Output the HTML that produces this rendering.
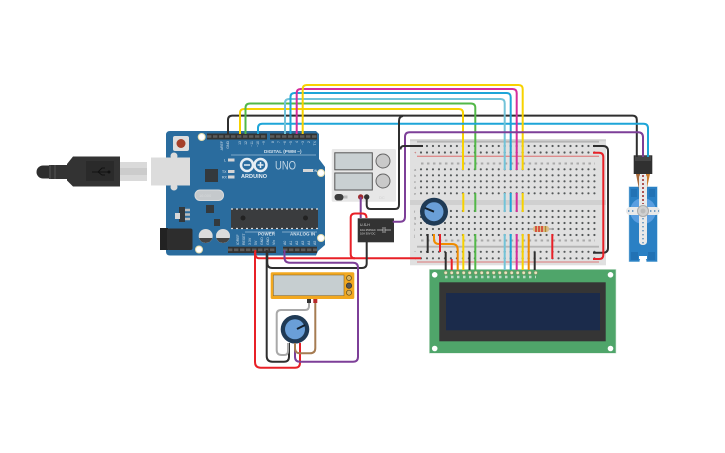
<!DOCTYPE html>
<html><head><meta charset="utf-8"><style>
html,body{margin:0;padding:0;background:#fff;width:725px;height:453px;overflow:hidden}
svg{display:block}
text{font-family:"Liberation Sans",sans-serif}
.w{fill:none;stroke-width:2;stroke-linecap:butt}
.h{fill:none;stroke:#55595a;stroke-width:2.2;stroke-linecap:round;stroke-dasharray:0 5.98}
</style></head><body>
<svg width="725" height="453" viewBox="0 0 725 453" xmlns="http://www.w3.org/2000/svg">
<rect width="725" height="453" fill="#fff"/>

<!-- USB cable -->
<rect x="120" y="162" width="27" height="19" fill="#dadada"/>
<rect x="120" y="168" width="27" height="7" fill="#cccccc"/>
<circle cx="43" cy="172" r="6.500" fill="#2e2e2e"/>
<rect x="43" y="165.500" width="12" height="13" fill="#2e2e2e"/>
<path d="M49 165h18v14h-18z" fill="#333"/>
<path d="M50 165v14M55 165v14" stroke="#555" stroke-width="1"/>
<path d="M67 164l6-7.500h47v30h-47l-6-6z" fill="#333"/>
<rect x="86" y="161" width="28" height="20" fill="#2a2a2a"/>
<path d="M92 172h18M98 172l4-4h3M98 172l4 3h3" stroke="#111" stroke-width="1" fill="none"/>
<circle cx="109" cy="172" r="1.500" fill="#111"/>

<!-- Arduino -->
<path d="M170 131H316l3 3V159l6 8V245l-7 6-2 4.500H170q-4 0-4-4V135q0-4 4-4z" fill="#2a6c9e"/>
<rect x="151" y="157.500" width="39" height="28" fill="#dcdcdc"/>
<circle cx="174" cy="156" r="3.500" fill="#dcdcdc"/><circle cx="174" cy="187" r="3.500" fill="#dcdcdc"/>
<rect x="173" y="136" width="16" height="15" rx="2" fill="#dedede"/>
<circle cx="181" cy="143.500" r="4.500" fill="#a5402a"/>
<circle cx="201.700" cy="137" r="3.500" fill="#fff" stroke="#e9dfae"/>
<circle cx="321" cy="173" r="3.500" fill="#fff" stroke="#e9dfae"/>
<circle cx="321" cy="238" r="3.500" fill="#fff" stroke="#e9dfae"/>
<circle cx="199" cy="249.500" r="3.500" fill="#fff" stroke="#e9dfae"/>
<!-- headers -->
<rect x="207" y="133.500" width="60" height="6" fill="#333"/>
<rect x="270" y="133.500" width="47" height="6" fill="#333"/>
<rect x="228" y="246.700" width="48" height="6.300" fill="#333"/>
<rect x="283" y="246.700" width="34" height="6.300" fill="#333"/>
<path d="M207 136.500H267M270 136.500H317M228 249.800H276M283 249.800H317" stroke="#5c5c5c" stroke-width="2.600" stroke-dasharray="4.400 1.600"/>
<!-- labels -->
<g fill="#cfdde8" font-size="3.500" text-anchor="end">
<text transform="translate(223 141) rotate(-90)">AREF</text>
<text transform="translate(229 141) rotate(-90)">GND</text>
<text transform="translate(241 141) rotate(-90)">13</text>
<text transform="translate(247 141) rotate(-90)">12</text>
<text transform="translate(253 141) rotate(-90)">~11</text>
<text transform="translate(259 141) rotate(-90)">~10</text>
<text transform="translate(265 141) rotate(-90)">~9</text>
<text transform="translate(274 141) rotate(-90)">8</text>
<text transform="translate(280 141) rotate(-90)">7</text>
<text transform="translate(286 141) rotate(-90)">~6</text>
<text transform="translate(292 141) rotate(-90)">~5</text>
<text transform="translate(298 141) rotate(-90)">4</text>
<text transform="translate(304 141) rotate(-90)">~3</text>
<text transform="translate(310 141) rotate(-90)">2</text>
<text transform="translate(316 141) rotate(-90)">TX</text>
<text transform="translate(239 245) rotate(0)" opacity="0"> </text>
</g>
<g fill="#cfdde8" font-size="3.500">
<text transform="translate(239 245) rotate(-90)">IOREF</text>
<text transform="translate(245 245) rotate(-90)">RESET</text>
<text transform="translate(251 245) rotate(-90)">3.3V</text>
<text transform="translate(257 245) rotate(-90)">5V</text>
<text transform="translate(263 245) rotate(-90)">GND</text>
<text transform="translate(269 245) rotate(-90)">GND</text>
<text transform="translate(275 245) rotate(-90)">Vin</text>
<text transform="translate(286 245) rotate(-90)">A0</text>
<text transform="translate(292 245) rotate(-90)">A1</text>
<text transform="translate(298 245) rotate(-90)">A2</text>
<text transform="translate(304 245) rotate(-90)">A3</text>
<text transform="translate(310 245) rotate(-90)">A4</text>
<text transform="translate(316 245) rotate(-90)">A5</text>
<text x="264" y="153" font-weight="bold" font-size="4.600" fill="#d8e4ee">DIGITAL (PWM ~)</text>
<text x="258" y="235.500" font-weight="bold" font-size="4.500" fill="#d8e4ee">POWER</text>
<text x="290" y="235.500" font-weight="bold" font-size="4.500" fill="#d8e4ee">ANALOG IN</text>
</g>
<path d="M231 155H316M245 232H275M282 232H317" stroke="#7fa8c8" stroke-width="1"/>
<rect x="228" y="158.500" width="6.500" height="3" fill="#d5d5d5"/>
<rect x="228" y="170" width="6.500" height="3" fill="#d5d5d5"/>
<rect x="228" y="175.500" width="6.500" height="3" fill="#d5d5d5"/>
<rect x="303" y="169" width="10" height="3" fill="#d5d5d5"/>
<g fill="#dfe9f0" font-size="3.500"><text x="224" y="161.500">L</text><text x="222" y="173">TX</text><text x="222" y="178.500">RX</text><text x="312" y="172">ON</text></g>
<!-- logo -->
<g fill="none" stroke="#e6eef4" stroke-width="2.500">
<circle cx="247" cy="165" r="6"/><circle cx="260.500" cy="165" r="6"/>
</g>
<path d="M244 165h6M257.500 165h6M260.500 162v6" stroke="#e6eef4" stroke-width="1.500"/>
<text x="241" y="178" fill="#e6eef4" font-size="5.500" font-weight="bold" textLength="26">ARDUINO</text>
<text x="275" y="169.500" fill="#c3d7e5" font-size="11.500" textLength="21" lengthAdjust="spacingAndGlyphs">UNO</text>
<!-- components -->
<rect x="205" y="169" width="13" height="13" fill="#33393d"/>
<rect x="195" y="190" width="28.500" height="10.500" rx="5" fill="#c5c9cc" stroke="#d9dbdd"/>
<text x="199" y="197" font-size="4" fill="#d6d8da">16.000</text>
<rect x="206" y="205" width="8" height="8" fill="#33393d"/>
<rect x="179" y="207" width="6" height="15" fill="#33393d"/>
<rect x="175" y="213" width="5" height="6" fill="#d8d8d8"/>
<path d="M185 210h5M185 214.500h5M185 219h5" stroke="#bbb" stroke-width="2.500"/>
<rect x="214" y="219" width="6" height="7" fill="#33393d"/>
<rect x="231" y="208.500" width="87" height="20.500" fill="#3a3c3e"/>
<path d="M231 209H318M231 228.500H318" stroke="#ddd" stroke-width="1.200" stroke-dasharray="2 3"/>
<circle cx="243" cy="218" r="2.500" fill="#222"/><circle cx="305.500" cy="218" r="2.500" fill="#222"/>
<path d="M160 228h8v22h-8z" fill="#222"/>
<rect x="167" y="228.500" width="25.500" height="21.500" rx="2" fill="#2d2d2d"/>
<circle cx="205.700" cy="236" r="7" fill="#dcdcdc"/><path d="M199 238a7 7 0 0 0 13.400 0z" fill="#444"/>
<circle cx="223" cy="236" r="7" fill="#dcdcdc"/><path d="M216.300 238a7 7 0 0 0 13.400 0z" fill="#444"/>

<!-- Power supply -->
<rect x="331.700" y="149" width="64.300" height="52.700" rx="1.500" fill="#e7e7e7"/>
<rect x="334.800" y="152.800" width="37.500" height="17" fill="#c9d0d2" stroke="#555" stroke-width="1"/>
<rect x="334.800" y="173" width="37.500" height="17" fill="#c9d0d2" stroke="#555" stroke-width="1"/>
<circle cx="383" cy="161" r="7" fill="#c9c9c9" stroke="#666"/>
<circle cx="383" cy="181" r="7" fill="#c9c9c9" stroke="#666"/>
<rect x="334.500" y="194" width="9" height="6.500" rx="3.200" fill="#3c3c3c"/>
<rect x="343.500" y="195.500" width="4" height="3" fill="#bbb"/>
<circle cx="360.700" cy="197" r="2.700" fill="#a02c2c"/>
<circle cx="366.700" cy="197" r="2.700" fill="#333"/>
<text x="379" y="199" font-size="4" fill="#d0d0d0">DC</text>

<!-- Breadboard -->
<rect x="410" y="139.300" width="196" height="126" fill="#e0e0e0"/>
<rect x="410" y="200" width="196" height="5" fill="#d0d0d0"/>
<rect x="410" y="139.300" width="196" height="2" fill="#d0d0d0"/>
<path d="M417 141.700H599M417 246.700H599" stroke="#b5b5b5" stroke-width="1.800"/>
<path d="M417 156.300H599M417 262H599" stroke="#dd8c8c" stroke-width="1.300"/>
<path class="h" d="M421 146H595M421 152.500H595M421 251.800H595M421 258.300H595"/>
<path class="h" d="M421 169.300H595M421 175.300H595M421 181.300H595M421 187.300H595M421 193.300H595"/>
<path class="h" d="M421 211H595M421 217H595M421 223H595M421 229H595M421 235H595"/>
<path d="M421 163.500H595M421 240.500H595" stroke="#a9a9a9" stroke-width="2" stroke-dasharray="2.500 3.480"/>
<g fill="#888" font-size="4"><text x="414" y="147">−</text><text x="414" y="154" fill="#b33">+</text><text x="414" y="253">−</text><text x="414" y="260" fill="#b33">+</text>
<text x="414" y="171">a</text><text x="414" y="177">b</text><text x="414" y="183">c</text><text x="414" y="189">d</text><text x="414" y="195">e</text>
<text x="414" y="213">f</text><text x="414" y="219">g</text><text x="414" y="225">h</text><text x="414" y="231">i</text><text x="414" y="237">j</text></g>

<!-- LCD -->
<rect x="429.300" y="269.300" width="186.700" height="84" fill="#4fa56a" stroke="#d8e8dc" stroke-width=".6"/>
<circle cx="434.700" cy="274.800" r="2.800" fill="#fff"/><circle cx="610.500" cy="274.800" r="2.800" fill="#fff"/>
<circle cx="434.700" cy="348.500" r="2.800" fill="#fff"/><circle cx="610.500" cy="348.500" r="2.800" fill="#fff"/>
<rect x="439.300" y="282.300" width="166.400" height="59" fill="#353535"/>
<rect x="446" y="293" width="154" height="37.300" fill="#1b2b4b"/>
<g fill="#e8e6c0" stroke="#8a8a60" stroke-width=".5">
<circle cx="445.700" cy="272.800" r="1.700"/><circle cx="451.700" cy="272.800" r="1.700"/><circle cx="457.700" cy="272.800" r="1.700"/><circle cx="463.700" cy="272.800" r="1.700"/><circle cx="469.700" cy="272.800" r="1.700"/><circle cx="475.700" cy="272.800" r="1.700"/><circle cx="481.700" cy="272.800" r="1.700"/><circle cx="487.700" cy="272.800" r="1.700"/><circle cx="493.700" cy="272.800" r="1.700"/><circle cx="499.700" cy="272.800" r="1.700"/><circle cx="505.700" cy="272.800" r="1.700"/><circle cx="511.700" cy="272.800" r="1.700"/><circle cx="517.700" cy="272.800" r="1.700"/><circle cx="523.700" cy="272.800" r="1.700"/><circle cx="529.700" cy="272.800" r="1.700"/><circle cx="535.700" cy="272.800" r="1.700"/>
</g>
<path d="M445 277H536" stroke="#bcd9c4" stroke-width="2.500" stroke-dasharray="2.500 3.500"/>

<!-- Multimeter -->
<rect x="270.700" y="272.300" width="83.600" height="26.700" rx="1.500" fill="#f2a81f"/>
<rect x="273.300" y="275" width="70.700" height="20.700" fill="#c6ced0" stroke="#8f6a20" stroke-width=".6"/>
<circle cx="349" cy="278" r="2.500" fill="#d9b360" stroke="#5b4a20" stroke-width=".7"/>
<circle cx="349" cy="285.700" r="2.700" fill="#555" stroke="#333" stroke-width=".7"/>
<circle cx="349" cy="292.700" r="2.500" fill="#d9b360" stroke="#5b4a20" stroke-width=".7"/>
<rect x="307" y="299" width="4" height="4" fill="#333"/>
<rect x="313.300" y="299" width="4" height="4" fill="#b82a2a"/>

<!-- Relay -->
<rect x="357.700" y="218.300" width="36.300" height="24" fill="#333"/>
<g fill="#ddd" font-size="3.500"><text x="360" y="226">U-S-H</text><text x="360" y="231" font-size="2.800">10A 250VAC</text><text x="360" y="234.500" font-size="2.800">10A 30V DC</text></g>
<path d="M377 230h6M385 230h6M383 227v6M385 227v6" stroke="#ccc" stroke-width=".7"/>

<!-- Servo -->
<rect x="629" y="186.700" width="28.300" height="75" fill="#2a80c4" stroke="#9cc8e6" stroke-width=".5"/>
<rect x="631" y="189" width="6" height="8" fill="#2272b4"/><rect x="649" y="189" width="6" height="8" fill="#2272b4"/>
<rect x="631" y="252" width="7" height="8" fill="#2272b4"/><rect x="648" y="252" width="7" height="8" fill="#2272b4"/>
<circle cx="643" cy="211" r="13" fill="#5a9ee0"/>
<circle cx="643" cy="261" r="3.500" fill="#fff"/>
<rect x="639" y="256" width="8" height="3" fill="#fff"/>
<path d="M636 174h4l1.500 18h-2z" fill="#a8693a"/>
<path d="M646 174h4l-3 14h-2z" fill="#c97d2e"/>
<rect x="626" y="207" width="34" height="8" rx="4" fill="#e9e9e9"/>
<rect x="639" y="174" width="8" height="71" rx="3.500" fill="#e9e9e9"/>
<circle cx="643" cy="211" r="5.500" fill="#d0d0d0" stroke="#aaa"/>
<circle cx="643" cy="211" r="2.500" fill="#bbb"/>
<path d="M643 175V204" stroke="#a0302e" stroke-width="1.600" stroke-dasharray="2 2"/>
<path d="M643 218V244M628 211H636M650 211H659" stroke="#4d86b8" stroke-width="1.400" stroke-dasharray="1.400 2.600"/>
<rect x="633.700" y="155.300" width="18.600" height="18.700" fill="#303030"/>
<rect x="635" y="156" width="16" height="5" fill="#454545"/>

<!-- Potentiometers -->
<circle cx="434" cy="211.700" r="14" fill="#1f3a55"/>
<circle cx="434" cy="211.700" r="9.500" fill="#6a9fd8"/>
<path d="M434 211.700L425 208" stroke="#14202c" stroke-width="2"/>
<circle cx="295" cy="329.300" r="14.300" fill="#1f3a55"/>
<circle cx="295" cy="329.300" r="10" fill="#6a9fd8"/>
<path d="M297 329L305 325" stroke="#14202c" stroke-width="2"/>
<path d="M288 343v4M295 343v4M300 343v4" stroke="#999" stroke-width="1.500"/>

<!-- wires -->
<g class="w">
<path stroke="#2f2f2f" d="M228 134V120q0-4.400 4.400-4.400H632.500q4.300 0 4.300 4.300V157"/>
<path stroke="#f7d200" d="M240 134V113q0-4 4-4H459q4 0 4 4V170"/>
<path stroke="#52b848" d="M245.500 134V108q0-4.500 4.500-4.500H471q4.300 0 4.300 4.300V170"/>
<path stroke="#1ea5d8" d="M258 134V128q0-4.300 4.300-4.300H643.500q4.500 0 4.500 4.500V157"/>
<path stroke="#72c3d8" d="M285 134V103q0-4 4-4H500.500q4.200 0 4.200 4.200V170"/>
<path stroke="#1ea5d8" d="M290.500 134V97q0-4 4-4H506.500q4.200 0 4.200 4.200V170"/>
<path stroke="#d42d9c" d="M296.700 134V93q0-4 4-4H512.500q4.200 0 4.200 4.200V170"/>
<path stroke="#f7d200" d="M302.700 134V89q0-4 4-4H518.500q4.200 0 4.200 4.200V170"/>
<path stroke="#7d3f98" d="M392.700 221.700H400q5 0 5-5V137q0-4.700 4.700-4.700H638q5 0 5 5V157"/>
<path stroke="#2f2f2f" d="M366.700 197V205q0 4 4 4H395q4 0 4-4V121q0-4.500 4-5"/>
<path stroke="#2f2f2f" d="M423 146H404q-3.500 0-3.500 3.500"/>
<path stroke="#7d3f98" d="M360.700 197V218"/>
<path stroke="#e82027" d="M366.500 218q0-4.500-4-4.500H355q-4.300 0-4.300 4.300V254q0 4.300 4.300 4.300H421"/>
<path stroke="#e82027" d="M255.300 250V254q0 4.300 4.300 4.300H355"/>
<path stroke="#e82027" d="M255 252V362q0 5.700 5.700 5.700H295q5 0 5-5V343"/>
<path stroke="#2f2f2f" d="M266.700 250V356q0 5.700 5.700 5.700H284q5 0 5-5V343"/>
<path stroke="#2f2f2f" d="M267.300 252V263q0 5 5 5H362q4.700 0 4.700-4.700V242"/>
<path stroke="#7d3f98" d="M284.500 250V257.500q0 5.200 5.200 5.200H353q5 0 5 5V356.700q0 5-5 5H300q-5 0-5-5V343"/>
<path stroke="#a9a9a9" d="M309 303V306q0 4-4 4H281q-4.300 0-4.300 4.300V350q0 5 5 5H284q4 0 4-4V343"/>
<path stroke="#a67c52" d="M315.300 303V348q0 5.300-5.300 5.300H300q-5 0-5-5V343"/>

<!-- breadboard jumpers -->
<path stroke="#2f2f2f" d="M427.700 234V253"/>
<path stroke="#f08c00" d="M434 234V239q0 5 5 5H452q5.700 0 5.700 5.700V270"/>
<path stroke="#e82027" d="M440 234V252"/>
<path stroke="#2f2f2f" d="M445.700 252V270"/>
<path stroke="#e82027" d="M451.700 259V270"/>
<path stroke="#2f2f2f" d="M469.500 252V270"/>
<path stroke="#f7d200" d="M463.300 193V212M463.300 234V270"/>
<path stroke="#52b848" d="M475.300 193V212M475.300 234V270"/>
<path stroke="#72c3d8" d="M504.700 193V212M504.700 234V270"/>
<path stroke="#1ea5d8" d="M510.700 193V212M510.700 234V270"/>
<path stroke="#d42d9c" d="M516.700 193V212M516.700 234V270"/>
<path stroke="#f7d200" d="M522.700 193V212M522.700 234V270"/>
<path stroke="#f08c00" d="M528.700 234V270"/>
<path stroke="#2f2f2f" d="M534.700 252V270"/>
<path stroke="#e82027" d="M552.300 234V259"/>
<path stroke="#2f2f2f" d="M593 146H603q5 0 5 5V248q0 4.700-5 4.700H593"/>
<path stroke="#e82027" d="M593 152.700H599q4.300 0 4.300 4.300V255q0 4-4.300 4H593"/>
</g>

<!-- Resistor -->
<path d="M529 229H553" stroke="#aaa" stroke-width="1.500"/>
<rect x="533" y="226" width="16" height="6" rx="2.500" fill="#d9bc84"/>
<path d="M536 226v6M539 226v6M542 226v6" stroke="#d42020" stroke-width="1.300"/>
<path d="M545.500 226v6" stroke="#b08a30" stroke-width="1.300"/>
</svg>
</body></html>
